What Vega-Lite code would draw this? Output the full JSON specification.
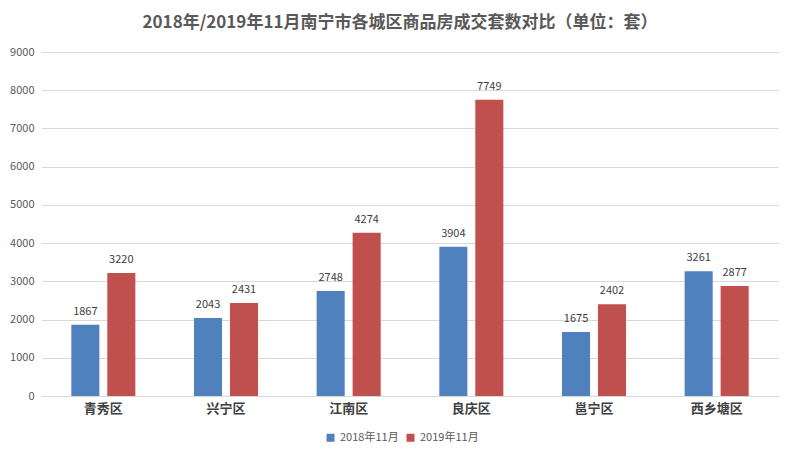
{
  "$schema": "https://vega.github.io/schema/vega-lite/v6.json",
  "width": 736,
  "height": 344,
  "autosize": {"type": "none"},
  "padding": {"left": 42, "top": 52, "right": 22, "bottom": 64},
  "background": "white",
  "title": {
    "text": "2018年/2019年11月南宁市各城区商品房成交套数对比（单位：套）",
    "font": "Noto Sans CJK SC",
    "fontSize": 17,
    "fontWeight": "bold",
    "color": "#595959",
    "anchor": "middle",
    "dx": -10,
    "offset": 14
  },
  "data": {
    "values": [
      {"district": "青秀区", "period": "2018年11月", "value": 1867},
      {"district": "青秀区", "period": "2019年11月", "value": 3220},
      {"district": "兴宁区", "period": "2018年11月", "value": 2043},
      {"district": "兴宁区", "period": "2019年11月", "value": 2431},
      {"district": "江南区", "period": "2018年11月", "value": 2748},
      {"district": "江南区", "period": "2019年11月", "value": 4274},
      {"district": "良庆区", "period": "2018年11月", "value": 3904},
      {"district": "良庆区", "period": "2019年11月", "value": 7749},
      {"district": "邕宁区", "period": "2018年11月", "value": 1675},
      {"district": "邕宁区", "period": "2019年11月", "value": 2402},
      {"district": "西乡塘区", "period": "2018年11月", "value": 3261},
      {"district": "西乡塘区", "period": "2019年11月", "value": 2877}
    ]
  },
  "encoding": {
    "x": {
      "field": "district",
      "type": "nominal",
      "sort": null,
      "scale": {"paddingInner": 0.478, "paddingOuter": 0.239},
      "axis": {
        "title": null,
        "labelAngle": 0,
        "labelFont": "Noto Sans CJK SC",
        "labelFontSize": 13,
        "labelFontWeight": "bold",
        "labelColor": "#404040",
        "labelPadding": 6,
        "ticks": false,
        "domainColor": "#D9D9D9",
        "domainWidth": 1
      }
    },
    "xOffset": {
      "field": "period",
      "type": "nominal",
      "scale": {"paddingInner": 0.22, "paddingOuter": 0}
    },
    "y": {
      "field": "value",
      "type": "quantitative",
      "scale": {"domain": [0, 9000]},
      "axis": {
        "title": null,
        "values": [0, 1000, 2000, 3000, 4000, 5000, 6000, 7000, 8000, 9000],
        "format": "d",
        "labelFont": "Noto Sans CJK SC",
        "labelFontSize": 11,
        "labelColor": "#595959",
        "labelPadding": 8,
        "ticks": false,
        "domain": false,
        "gridColor": "#D9D9D9",
        "gridWidth": 1
      }
    }
  },
  "layer": [
    {
      "mark": {"type": "bar"},
      "encoding": {
        "color": {
          "field": "period",
          "type": "nominal",
          "scale": {"domain": ["2018年11月", "2019年11月"], "range": ["#4F81BD", "#C0504D"]},
          "legend": {
            "title": null,
            "orient": "none",
            "legendX": 283,
            "legendY": 380,
            "direction": "horizontal",
            "symbolType": "square",
            "symbolSize": 64,
            "symbolStrokeWidth": 0,
            "labelFont": "Noto Sans CJK SC",
            "labelFontSize": 11,
            "labelColor": "#595959",
            "columnPadding": 6
          }
        }
      }
    },
    {
      "mark": {"type": "text", "baseline": "bottom", "dy": -8, "font": "Noto Sans CJK SC", "fontSize": 11, "color": "#404040"},
      "encoding": {"text": {"field": "value", "type": "quantitative", "format": "d"}}
    }
  ],
  "config": {"view": {"stroke": null}}
}
